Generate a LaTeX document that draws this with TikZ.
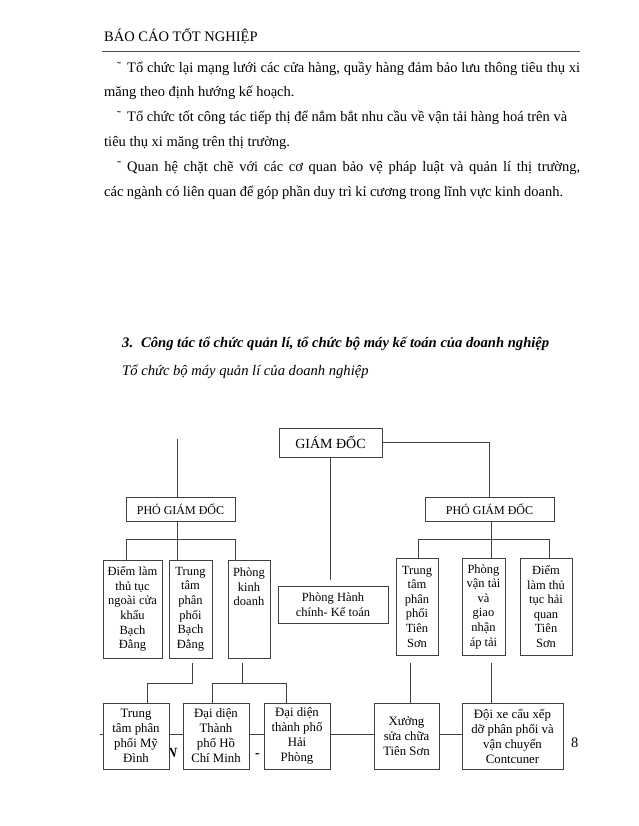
\documentclass[tikz,border=0pt]{standalone}
\usepackage{fontspec}
\setmainfont{Liberation Serif}
\begin{document}
\begin{tikzpicture}[x=1pt,y=-1pt,
  box/.style={draw=black!75, fill=white, line width=0.8pt, inner sep=0pt, align=center, font=\fontsize{12.5}{14.6}\selectfont},
  lowbox/.style={box, font=\fontsize{12.8}{15}\selectfont},
  conn/.style={draw=black!75, line width=0.8pt},
  txt/.style={anchor=base west, inner sep=0pt, font=\fontsize{14.5}{16}\selectfont},
  tl/.style={anchor=base west, inner sep=0pt, font=\fontsize{12}{12}\selectfont}]
\useasboundingbox[fill=white] (0,0) rectangle (638,826);

% header
\node[txt] (hdr) at (104,42) {BÁO CÁO TỐT NGHIỆP};
\coordinate (hlA) at (102,51.5);
\coordinate (hlB) at (580,51.5);
\draw[draw=black!70, line width=1.3pt] (hlA) -- (hlB);

% paragraphs
\node[tl] (t1) at (117,71) {˜};
\node[txt] (p1) at (127,73) {\makebox[453pt][s]{Tổ chức lại mạng lưới các cửa hàng, quầy hàng đảm bảo lưu thông tiêu thụ xi}};
\node[txt] (p2) at (104,97) {măng theo định hướng kế hoạch.};
\node[tl] (t2) at (117,120) {˜};
\node[txt] (p3) at (127,122) {\makebox[440pt][s]{Tổ chức tốt công tác tiếp thị để nắm bắt nhu cầu về vận tải hàng hoá trên và}};
\node[txt] (p4) at (104,147) {tiêu thụ xi măng trên thị trường.};
\node[tl] (t3) at (117,170) {˜};
\node[txt] (p5) at (127,172) {\makebox[453pt][s]{Quan hệ chặt chẽ với các cơ quan bảo vệ pháp luật và quản lí thị trường,}};
\node[txt] (p6) at (104,197) {\makebox[459pt][s]{các ngành có liên quan để góp phần duy trì kỉ cương trong lĩnh vực kinh doanh.}};

% headings
\node[txt, font=\fontsize{14.6}{16}\selectfont\bfseries\itshape] (h3) at (122,347) {3.\hspace{8pt}Công tác tổ chức quản lí, tổ chức bộ máy kế toán của doanh nghiệp};
\node[txt, font=\fontsize{14.6}{16}\selectfont\itshape] (h3s) at (122,375) {Tổ chức bộ máy quản lí của doanh nghiệp};

% top level
\node[box, font=\fontsize{14}{16}\selectfont, minimum width=103, minimum height=29] (gd) at (330.5,442.5) {GIÁM ĐỐC};
\node[box, font=\fontsize{12}{14}\selectfont, minimum width=109, minimum height=24] (pgdL) at (180.5,509) {PHÓ GIÁM ĐỐC};
\node[box, font=\fontsize{12}{14}\selectfont, minimum width=129, minimum height=24] (pgdR) at (489.5,509) {PHÓ GIÁM ĐỐC};

% middle row
\node[box, minimum width=59, minimum height=98] (bA) at (132.5,609) {Điểm làm\\thủ tục\\ngoài cửa\\khẩu\\Bạch\\Đằng};
\node[box, minimum width=43, minimum height=98] (bB) at (190.5,609) {Trung\\tâm\\phân\\phối\\Bạch\\Đằng};
\node[box, minimum width=42, minimum height=98, text depth=44] (bC) at (249,609) {Phòng\\kinh\\doanh};
\node[box, minimum width=110, minimum height=37] (hc) at (333,604.5) {Phòng Hành\\chính- Kế toán};
\node[box, minimum width=42, minimum height=97] (bD) at (417,606.5) {Trung\\tâm\\phân\\phối\\Tiên\\Sơn};
\node[box, minimum width=43, minimum height=97] (bE) at (483.5,606.5) {Phòng\\vận tải\\và\\giao\\nhận\\áp tải};
\node[box, minimum width=52, minimum height=97] (bF) at (546,606.5) {Điểm\\làm thủ\\tục hải\\quan\\Tiên\\Sơn};

% footer line (behind bottom boxes)
\coordinate (fA) at (100,734);
\coordinate (fB) at (563,734);
\draw[conn] (fA) -- (fB);
\node[txt, font=\fontsize{14}{16}\selectfont\bfseries\itshape] (fN) at (167,757) {N};
\node[txt, font=\fontsize{14}{16}\selectfont\bfseries] (fD) at (255,757) {-};

% bottom row
\node[lowbox, minimum width=66, minimum height=66] (bG) at (136,736) {Trung\\tâm phân\\phối Mỹ\\Đình};
\node[lowbox, minimum width=66, minimum height=66] (bH) at (216,736) {Đại diện\\Thành\\phố Hồ\\Chí Minh};
\node[lowbox, minimum width=66, minimum height=66] (bI) at (297,736) {Đại diện\\thành phố\\Hải\\Phòng};
\node[lowbox, minimum width=65, minimum height=66] (bJ) at (406.5,736) {Xưởng\\sửa chữa\\Tiên Sơn};
\node[lowbox, minimum width=101, minimum height=66] (bK) at (512.5,736) {Đội xe cẩu xếp\\dỡ phân phối và\\vận chuyển\\Contcuner};
\node[txt] (pg) at (571,747) {8};

% connectors, top
\coordinate (topL) at (177,439);
\draw[conn] (topL) -- (topL |- pgdL.north);
\draw[conn] (gd.east) -| (pgdR.north);
\coordinate (hcEnd) at (330,580);
\draw[conn] (gd.south) -- (gd.south |- hcEnd);

% left deputy branch
\coordinate (jL) at (177,539);
\coordinate (bl1) at (126,539);
\coordinate (bl2) at (235,539);
\draw[conn] (pgdL.south -| jL) -- (jL);
\draw[conn] (bl1) -- (bl2);
\draw[conn] (bl1) -- (bl1 |- bA.north);
\draw[conn] (jL) -- (jL |- bB.north);
\draw[conn] (bl2) -- (bl2 |- bC.north);

% right deputy branch
\coordinate (jR) at (491,539);
\coordinate (br1) at (418,539);
\coordinate (br2) at (549,539);
\draw[conn] (pgdR.south -| jR) -- (jR);
\draw[conn] (br1) -- (br2);
\draw[conn] (br1) -- (br1 |- bD.north);
\draw[conn] (jR) -- (jR |- bE.north);
\draw[conn] (br2) -- (br2 |- bF.north);

% lower connectors
\coordinate (sB) at (192,663);
\coordinate (kB) at (192,683);
\coordinate (kG) at (147,683);
\draw[conn] (sB) -- (kB) -- (kG) -- (kG |- bG.north);
\coordinate (sC) at (242,663);
\coordinate (kC) at (242,683);
\coordinate (kH) at (212,683);
\coordinate (kI) at (286,683);
\draw[conn] (sC) -- (kC);
\draw[conn] (kH) -- (kI);
\draw[conn] (kH) -- (kH |- bH.north);
\draw[conn] (kI) -- (kI |- bI.north);
\coordinate (sD) at (410,663);
\draw[conn] (sD) -- (sD |- bJ.north);
\coordinate (sE) at (491,663);
\draw[conn] (sE) -- (sE |- bK.north);
\end{tikzpicture}
\end{document}
